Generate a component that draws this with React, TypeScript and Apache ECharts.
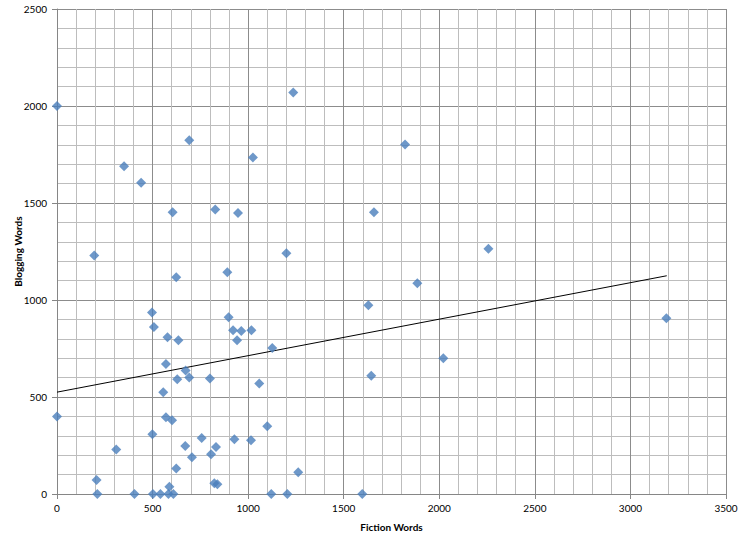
import React, { useEffect, useRef } from "react";
import * as echarts from "echarts";

const fictionWords: number[] = [
  0, 0, 195, 207, 211, 310, 351, 405, 440, 497, 507, 499, 502, 541, 556, 570, 570, 578, 583, 588,
  602, 605, 609, 624, 635, 629, 624, 673, 671, 692, 692, 706, 757, 800, 806, 828, 823, 839, 832,
  891, 898, 921, 964, 942, 947, 928, 1017, 1015, 1025, 1058, 1100, 1126, 1121, 1205, 1200, 1236,
  1262, 1597, 1629, 1644, 1658, 1821, 1885, 2021, 2257, 3188,
];
const bloggingWords: number[] = [
  2000, 400, 1230, 72, 0, 230, 1690, 0, 1605, 936, 861, 308, 0, 0, 524, 670, 395, 808, 0, 38,
  380, 1452, 0, 1117, 792, 591, 132, 636, 247, 1823, 601, 189, 289, 596, 205, 1467, 55, 50, 242,
  1143, 911, 844, 840, 792, 1448, 282, 844, 277, 1735, 570, 349, 753, 0, 0, 1241, 2070,
  112, 0, 973, 610, 1452, 1802, 1086, 700, 1264, 906,
];
const trendX: number[] = [0, 3190];
const trendY: number[] = [525, 1125];

const FONT = "Lato, 'Open Sans', sans-serif";

export default function App() {
  const ref = useRef<HTMLDivElement>(null);
  useEffect(() => {
    if (!ref.current) return;
    const chart = echarts.init(ref.current, undefined, { renderer: "svg" });
    const axisCommon = {
      type: "value" as const,
      nameLocation: "middle" as const,
      nameMoveOverlap: false,
      nameTextStyle: { fontFamily: FONT, fontSize: 10, fontWeight: "bold" as const, color: "#000" },
      axisLine: { show: true, lineStyle: { color: "#868686", width: 1 } },
      axisTick: { show: true, length: 5, inside: false, lineStyle: { color: "#868686" } },
      axisLabel: {
        fontFamily: FONT,
        fontSize: 10,
        color: "#000",
        formatter: (v: number) => String(v),
      },
      splitLine: { show: true, lineStyle: { color: "#8c8c8c", width: 1 } },
      minorTick: { show: false, splitNumber: 5 },
      minorSplitLine: { show: true, lineStyle: { color: "#bdbdbd", width: 1 } },
    };
    chart.setOption({
      animation: false,
      backgroundColor: "#ffffff",
      grid: {
        left: 57,
        right: 15,
        top: 9,
        bottom: 42,
        containLabel: false,
        outerBoundsMode: "none",
        show: false,
      },
      xAxis: {
        ...axisCommon,
        name: "Fiction Words",
        nameGap: 28,
        min: 0,
        max: 3500,
        interval: 500,
        axisLabel: { ...axisCommon.axisLabel, margin: 9 },
      },
      yAxis: {
        ...axisCommon,
        name: "Blogging Words",
        nameGap: 34,
        min: 0,
        max: 2500,
        interval: 500,
        axisLabel: { ...axisCommon.axisLabel, margin: 10 },
      },
      series: [
        {
          type: "scatter",
          symbol: "diamond",
          symbolSize: 10,
          itemStyle: { color: "#4a7ebb" },
          data: fictionWords.map((x, i) => [x, bloggingWords[i]]),
          z: 3,
        },
        {
          type: "line",
          symbol: "none",
          lineStyle: { color: "#000", width: 1 },
          data: trendX.map((x, i) => [x, trendY[i]]),
          z: 2,
        },
      ],
    });
    return () => chart.dispose();
  }, []);
  return (
    <div
      ref={ref}
      style={{ position: "fixed", left: 0, top: 0, width: 741, height: 536, background: "#fff" }}
    />
  );
}
